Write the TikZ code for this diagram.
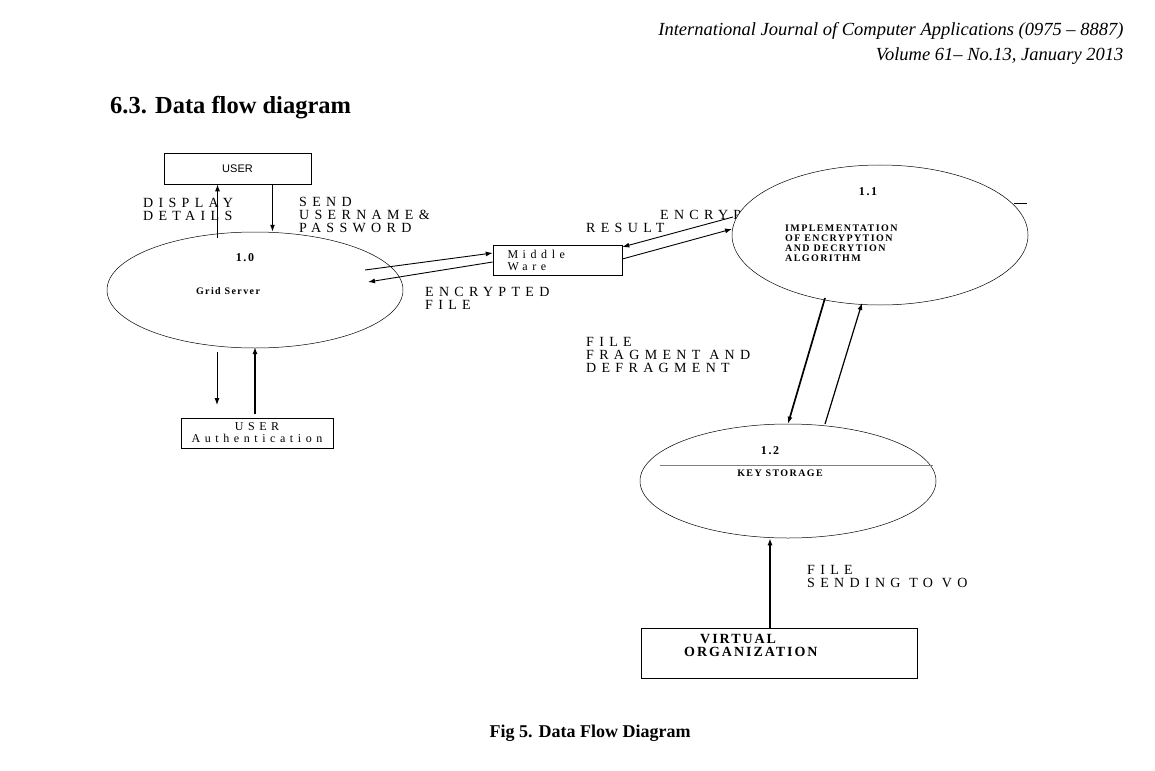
\documentclass[tikz,border=0pt]{standalone}
\usepackage{fontspec}
\setmainfont{Liberation Serif}
\newfontfamily\spaced[LetterSpace=38]{Liberation Serif}
\newfontfamily\boldspaced[LetterSpace=14]{Liberation Serif}
\newfontfamily\plainsans{Liberation Sans}
\usetikzlibrary{shapes.geometric,arrows.meta}
\begin{document}
\begin{tikzpicture}[x=1pt,y=-1pt,
  flow/.style={-{Latex[length=7pt,width=5pt]},line width=1.2pt},
  thin flow/.style={-{Latex[length=7pt,width=5pt]},line width=0.9pt},
  proc/.style={draw,ellipse,inner sep=0,line width=0.5pt},
  store/.style={draw,rectangle,inner sep=0,line width=0.6pt},
  lbl/.style={anchor=west,font=\spaced\fontsize{14}{13}\selectfont,align=left,inner sep=0},
  bold lbl/.style={font=\boldspaced\bfseries\fontsize{10}{10}\selectfont,inner sep=0}]
\useasboundingbox (0,0) rectangle (1155,770);

% header and title
\node[anchor=east,font=\itshape\fontsize{18.5}{25}\selectfont,align=right] (head) at (1127,43)
  {International Journal of Computer Applications (0975 -- 8887)\\Volume 61-- No.13, January 2013};
\node[anchor=west,font=\bfseries\fontsize{24.5}{26}\selectfont,inner sep=0] (title) at (110,108) {6.3. Data flow diagram};
\node[font=\bfseries\fontsize{18}{20}\selectfont] (caption) at (590,733) {Fig 5. Data Flow Diagram};

% labels (drawn before the processes so that 1.1 covers its label)
\node[lbl] (display) at (143,209) {DISPLAY\\DETAILS};
\node[lbl] (send) at (299,215) {SEND\\USERNAME\&\\PASSWORD};
\node[lbl] (encfile) at (425,298) {ENCRYPTED\\FILE};
\node[lbl] (encres) at (586,221) {\hspace*{74pt}ENCRYPTED\\RESULT};
\node[lbl] (frag) at (586,355) {FILE\\FRAGMENT AND\\DEFRAGMENT};
\node[lbl] (sendvo) at (807,577) {FILE\\SENDING TO VO};

% entities
\node[store,minimum width=147pt,minimum height=31pt,font=\plainsans\fontsize{11}{12}\selectfont] (user) at (237.5,168.5) {USER};
\node[store,minimum width=152pt,minimum height=30pt,font=\spaced\fontsize{12}{12}\selectfont,align=center] (auth) at (257,433) {USER\\Authentication};
\node[store,minimum width=129pt,minimum height=30pt,font=\spaced\fontsize{12}{12}\selectfont,align=left,text width=100pt] (mware) at (557.5,260) {Middle\\Ware};
\node[store,minimum width=276pt,minimum height=50pt] (vo) at (779,653) {};
\node[anchor=west,inner sep=0,font=\boldspaced\bfseries\fontsize{14}{13}\selectfont,align=left] (votext) at (684,645) {\hspace*{16pt}VIRTUAL\\ORGANIZATION};

% processes
\node[proc,minimum width=296pt,minimum height=116pt] (grid) at (255,290) {};
\node[bold lbl] (gridno) at (245,258) {\fontsize{12}{12}\selectfont 1.0};
\node[bold lbl] (gridname) at (228,291) {Grid Server};

\node[proc,fill=white,minimum width=296pt,minimum height=140pt] (impl) at (880,235) {};
\node[bold lbl] (implno) at (868,192) {\fontsize{12}{12}\selectfont 1.1};
\node[bold lbl,anchor=west,align=left] (implname) at (785,243)
  {IMPLEMENTATION\\OF ENCRYPYTION\\AND DECRYTION\\ALGORITHM};
\coordinate (tick) at (1027,203);
\draw (tick) -- ++(-13,0);

\node[proc,minimum width=296pt,minimum height=114pt] (keys) at (788,481) {};
\node[bold lbl] (keysno) at (770,451) {\fontsize{12}{12}\selectfont 1.2};
\node[bold lbl] (keysname) at (780,473) {KEY STORAGE};
\draw[gray] ([xshift=20pt,yshift=16pt]keys.west) -- ([xshift=-3pt,yshift=16pt]keys.east);

% flows
\draw[flow] ([xshift=-20pt]user.south |- grid.north) ++(0,6) -- ([xshift=-20pt]user.south);
\draw[flow] ([xshift=35pt]user.south) -- ([xshift=35pt]user.south |- grid.north);
\draw[thin flow] (365,270) -- ([yshift=7pt]mware.west);
\draw[thin flow] ([yshift=-2pt]mware.west) -- (368,282);
\draw[thin flow] (733,217) -- ([yshift=13pt]mware.east);
\draw[thin flow] ([yshift=1pt]mware.east) -- (732,229);
\draw[flow,line width=1.7pt] (825,298) -- (keys.north);
\draw[flow] (825,424) -- (862,303);
\draw[flow,line width=1.7pt] ([xshift=-9pt]vo.north) -- ([xshift=-18pt]keys.south);
\draw[thin flow] (217,352) -- (217,405);
\draw[flow,line width=2pt] ([xshift=-2pt]auth.north) ++(0,-4) -- (255,347);
\end{tikzpicture}
\end{document}
